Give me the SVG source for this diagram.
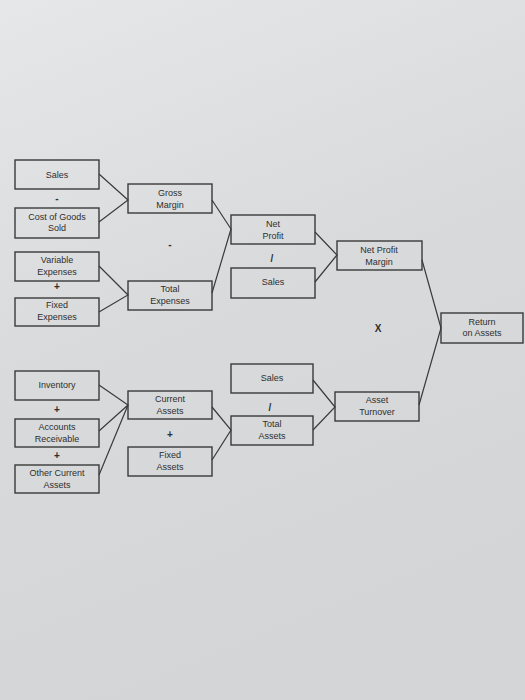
<svg xmlns="http://www.w3.org/2000/svg" width="525" height="700" viewBox="0 0 525 700">
<defs>
<linearGradient id="bg" x1="0" y1="0" x2="0.3" y2="1">
<stop offset="0" stop-color="#e6e7e8"/>
<stop offset="0.5" stop-color="#d9dadb"/>
<stop offset="1" stop-color="#d4d5d6"/>
</linearGradient>
<style>
.box{fill:none;stroke:#3a3a3a;stroke-width:1.4}
.t{font-family:"Liberation Sans",Arial,sans-serif;font-size:9px;fill:#2e2e2e;text-anchor:middle}
.op{font-family:"Liberation Sans",Arial,sans-serif;font-size:10px;fill:#2e2e2e;text-anchor:middle;font-weight:bold}
.c{fill:none;stroke:#3a3a3a;stroke-width:1.2}
</style>
</defs>
<rect width="525" height="700" fill="url(#bg)"/>
<g id="sales1"><rect class="box" x="15" y="160" width="84" height="29"/><text class="t" x="57" y="178">Sales</text></g>
<g id="cogs"><rect class="box" x="15" y="208" width="84" height="30"/><text class="t" x="57" y="220">Cost of Goods</text><text class="t" x="57" y="231">Sold</text></g>
<g id="varexp"><rect class="box" x="15" y="252" width="84" height="29"/><text class="t" x="57" y="263">Variable</text><text class="t" x="57" y="275">Expenses</text></g>
<g id="fixexp"><rect class="box" x="15" y="298" width="84" height="28"/><text class="t" x="57" y="308">Fixed</text><text class="t" x="57" y="320">Expenses</text></g>
<g id="gross"><rect class="box" x="128" y="184" width="84" height="29"/><text class="t" x="170" y="196">Gross</text><text class="t" x="170" y="208">Margin</text></g>
<g id="totexp"><rect class="box" x="128" y="281" width="84" height="29"/><text class="t" x="170" y="292">Total</text><text class="t" x="170" y="304">Expenses</text></g>
<g id="netprofit"><rect class="box" x="231" y="215" width="84" height="29"/><text class="t" x="273" y="227">Net</text><text class="t" x="273" y="239">Profit</text></g>
<g id="sales2"><rect class="box" x="231" y="268" width="84" height="30"/><text class="t" x="273" y="285">Sales</text></g>
<g id="npm"><rect class="box" x="337" y="241" width="85" height="29"/><text class="t" x="379" y="253">Net Profit</text><text class="t" x="379" y="265">Margin</text></g>
<g id="roa"><rect class="box" x="441" y="313" width="82" height="30"/><text class="t" x="482" y="325">Return</text><text class="t" x="482" y="336">on Assets</text></g>
<g id="inventory"><rect class="box" x="15" y="371" width="84" height="29"/><text class="t" x="57" y="388">Inventory</text></g>
<g id="ar"><rect class="box" x="15" y="419" width="84" height="28"/><text class="t" x="57" y="430">Accounts</text><text class="t" x="57" y="442">Receivable</text></g>
<g id="oca"><rect class="box" x="15" y="465" width="84" height="28"/><text class="t" x="57" y="476">Other Current</text><text class="t" x="57" y="488">Assets</text></g>
<g id="curassets"><rect class="box" x="128" y="391" width="84" height="28"/><text class="t" x="170" y="402">Current</text><text class="t" x="170" y="414">Assets</text></g>
<g id="fixassets"><rect class="box" x="128" y="447" width="84" height="29"/><text class="t" x="170" y="458">Fixed</text><text class="t" x="170" y="470">Assets</text></g>
<g id="sales3"><rect class="box" x="231" y="364" width="82" height="29"/><text class="t" x="272" y="381">Sales</text></g>
<g id="totassets"><rect class="box" x="231" y="416" width="82" height="29"/><text class="t" x="272" y="427">Total</text><text class="t" x="272" y="439">Assets</text></g>
<g id="turnover"><rect class="box" x="335" y="392" width="84" height="29"/><text class="t" x="377" y="403">Asset</text><text class="t" x="377" y="415">Turnover</text></g>
<g id="operators">
<text class="op" x="57" y="202">-</text>
<text class="op" x="170" y="248">-</text>
<text class="op" x="57" y="290">+</text>
<text class="op" x="272" y="262">/</text>
<text class="op" x="378" y="332">X</text>
<text class="op" x="57" y="413">+</text>
<text class="op" x="57" y="459">+</text>
<text class="op" x="170" y="438">+</text>
<text class="op" x="270" y="411">/</text>
</g>
<g id="connectors">
<path class="c" d="M99,174 L128,200 L99,222"/>
<path class="c" d="M99,266 L128,295 L99,312"/>
<path class="c" d="M212,200 L231,229 L212,293"/>
<path class="c" d="M315,232 L337,255 L315,282"/>
<path class="c" d="M422,260 L441,328 L419,405"/>
<path class="c" d="M99,385 L128,405 L99,431 M128,405 L99,475"/>
<path class="c" d="M212,407 L231,430 L212,460"/>
<path class="c" d="M313,380 L335,407 L313,430"/>
</g>
</svg>
